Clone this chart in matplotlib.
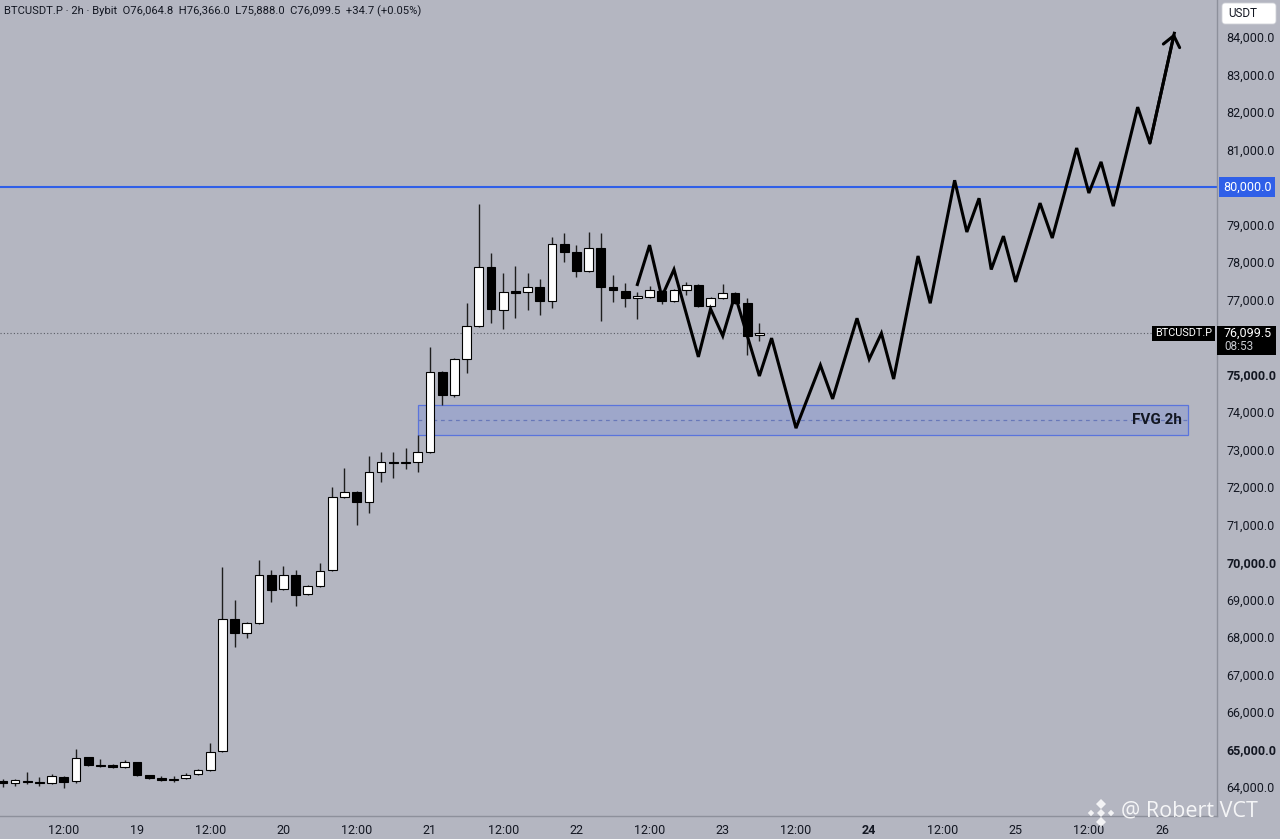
import matplotlib
matplotlib.use('Agg')
import matplotlib.pyplot as plt
import matplotlib.transforms as mtransforms
from matplotlib.patches import Rectangle, RegularPolygon, FancyBboxPatch

# 2h candles, bar index 1..63 (bar 0 = 18th 00:00)
bar_idx = list(range(1, 64))
opens = [64160, 64107, 64170, 64133, 64107, 64267, 64160, 64800, 64587, 64587,
         64533, 64667, 64320, 64240, 64187, 64240, 64347, 64453, 64960, 68480,
         68107, 68373, 69653, 69280, 69653, 69147, 69360, 69787, 71733, 71867,
         71600, 72400, 72667, 72640, 72667, 72933, 75067, 74453, 75413, 76293,
         77867, 76720, 77227, 77200, 77333, 76960, 78480, 78267, 77760, 78373,
         77333, 77227, 77040, 77067, 77227, 76960, 77253, 77387, 76827, 77040,
         77173, 76907, 76064.8]
highs = [64213, 64213, 64400, 64267, 64347, 64293, 65013, 64813, 64747, 64613,
         64720, 64680, 64333, 64293, 64293, 64373, 64480, 65173, 69867, 68987,
         68400, 70053, 69787, 69893, 69800, 69400, 69973, 72000, 72507, 71900,
         72827, 72933, 72933, 73040, 73390, 75733, 75100, 75450, 76907, 79547,
         78240, 77707, 77893, 77707, 77547, 78667, 78773, 78453, 78800, 78773,
         77653, 77440, 77200, 77360, 77253, 77280, 77467, 77413, 77067, 77413,
         77200, 77040, 76366.0]
lows = [64000, 64027, 64080, 64027, 64080, 63973, 64107, 64560, 64533, 64507,
        64507, 64293, 64213, 64160, 64133, 64213, 64320, 64427, 64933, 67733,
        67973, 68347, 68933, 69253, 68827, 69120, 69333, 69760, 71707, 70987,
        71307, 72133, 72240, 72480, 72400, 72900, 74190, 74400, 75040, 76267,
        76373, 76213, 76507, 76720, 76587, 76773, 78000, 77600, 77733, 76427,
        76933, 76800, 76480, 77040, 76880, 76933, 77120, 76800, 76800, 77013,
        76880, 75520, 75888.0]
closes = [64107, 64187, 64140, 64107, 64293, 64133, 64773, 64587, 64560, 64533,
          64667, 64320, 64240, 64187, 64213, 64320, 64453, 64933, 68480, 68107,
          68373, 69653, 69253, 69653, 69120, 69360, 69760, 71733, 71867, 71600,
          72400, 72667, 72640, 72667, 72933, 75067, 74453, 75413, 76293, 77867,
          76747, 77200, 77173, 77333, 76960, 78480, 78267, 77760, 78373, 77333,
          77253, 77040, 77093, 77253, 76960, 77253, 77387, 76827, 77040, 77173,
          76907, 76027, 76099.5]

# projected zigzag path
path_idx = [53, 54, 55, 56, 58, 59, 60, 61, 63, 64, 66, 68, 69, 71, 72, 73, 74,
            76, 77, 79, 80, 81, 82, 83, 84, 86, 87, 89, 90, 91, 92, 94, 95, 97]
path_px = [77400, 78450, 77070, 77800, 75470, 76750, 76030, 77120, 74960, 75970,
           73570, 75250, 74350, 76500, 75410, 76100, 74880, 78160, 76900, 80180,
           78800, 79700, 77800, 78690, 77470, 79570, 78640, 81040, 79840, 80670,
           79490, 82130, 81170, 84100]

fvg_start, fvg_end = 35, 98.1
fvg_low, fvg_high = 73387, 74187
level_80k = 80000
last_price = 76099.5

xtick_idx = list(range(6, 97, 6))
xtick_labels = ['12:00', '19', '12:00', '20', '12:00', '21', '12:00', '22',
                '12:00', '23', '12:00', '24', '12:00', '25', '12:00', '26']
ytick_vals = list(range(64000, 84001, 1000))

header = ('BTCUSDT.P \u00b7 2h \u00b7 Bybit  O76,064.8  H76,366.0  L75,888.0  '
          'C76,099.5  +34.7 (+0.05%)')

BG = '#b4b6c1'
TXT = '#131722'
BLUE = '#2f5fe8'

plt.rcParams['font.family'] = ['Roboto', 'DejaVu Sans']

W, H = 1280, 839
fig = plt.figure(figsize=(12.8, 8.39), dpi=100, facecolor=BG)
ax = fig.add_axes([0, 23 / H, 1217 / W, 816 / H], facecolor=BG)
ax.set_xlim(0.77, 100.5)
ax.set_ylim(63227, 84987)

# FVG zone
ax.add_patch(Rectangle((fvg_start, fvg_low), fvg_end - fvg_start, fvg_high - fvg_low,
                       facecolor='#4a6cf0', alpha=0.2, edgecolor='none', zorder=1))
ax.add_patch(Rectangle((fvg_start, fvg_low), fvg_end - fvg_start, fvg_high - fvg_low,
                       facecolor='none', edgecolor='#5a74dc', lw=0.9, zorder=1.1))
ax.plot([fvg_start, fvg_end], [(fvg_low + fvg_high) / 2] * 2, ls=(0, (3, 3)),
        color='#6878b8', lw=0.9, zorder=1.2)
ax.text(fvg_end - 0.45, (fvg_low + fvg_high) / 2, 'FVG 2h', ha='right', va='center',
        fontsize=11, fontweight='bold', color=TXT, zorder=5)

# levels
ax.axhline(level_80k, color=BLUE, lw=1.5, zorder=2)
ax.axhline(last_price, color='#5a5d66', lw=0.8, ls=(0, (1, 2)), zorder=1.5)

# candles
for i, o, h, l, c in zip(bar_idx, opens, highs, lows, closes):
    ax.vlines(i, l, h, color='#1e1e1e', lw=1.0, zorder=3)
    bottom = min(o, c)
    height = max(abs(c - o), 25)
    face = '#ffffff' if c >= o else '#000000'
    ax.bar(i, height, bottom=bottom, width=0.72, color=face, edgecolor='#000000',
           lw=0.8, zorder=4)

# projection path
ax.plot(path_idx, path_px, color='#000000', lw=2.2, solid_joinstyle='miter', zorder=6)
ax.annotate('', xy=(path_idx[-1], path_px[-1]), xytext=(path_idx[-2], path_px[-2]),
            arrowprops=dict(arrowstyle='->,head_length=0.75,head_width=0.6',
                            color='#000000', lw=2.2, shrinkA=0, shrinkB=0), zorder=6)

# axes styling
for s in ['top', 'left']:
    ax.spines[s].set_visible(False)
for s in ['right', 'bottom']:
    ax.spines[s].set_color('#8d909b')
    ax.spines[s].set_linewidth(1.0)

ax.yaxis.tick_right()
ax.set_yticks(ytick_vals)
ax.set_yticklabels(['' if v in (level_80k, 76000) else f'{v:,.1f}' for v in ytick_vals])
for v, lab in zip(ytick_vals, ax.get_yticklabels()):
    if v % 5000 == 0:
        lab.set_fontweight('bold')
ax.tick_params(axis='y', length=0, pad=7, labelsize=9, labelcolor=TXT)

ax.set_xticks(xtick_idx)
ax.set_xticklabels(xtick_labels)
for lab in ax.get_xticklabels():
    if lab.get_text() == '24':
        lab.set_fontweight('bold')
ax.tick_params(axis='x', length=0, pad=6, labelsize=9, labelcolor=TXT)

# overlay in pixel coordinates for labels and watermark
ov = fig.add_axes([0, 0, 1, 1], facecolor='none')
ov.set_xlim(0, W)
ov.set_ylim(H, 0)
ov.axis('off')
ov.set_zorder(10)
mixed = mtransforms.blended_transform_factory(ov.transData, ax.transData)

ov.text(4, 11, header, fontsize=8.1, color=TXT, va='center', ha='left')

ov.add_patch(FancyBboxPatch((1222, 3), 54, 21, boxstyle='round,pad=0,rounding_size=3',
                            fc='white', ec='#d0d2d8', lw=0.6))
ov.text(1243, 13.5, 'USDT', fontsize=8.4, color=TXT, ha='center', va='center')

ov.text(1247, level_80k, f'{level_80k:,.1f}', transform=mixed, fontsize=9, color='white',
        ha='center', va='center',
        bbox=dict(boxstyle='square,pad=0.3', fc=BLUE, ec='none'))

ov.add_patch(Rectangle((1152, 326), 63, 15, facecolor='black', edgecolor='none'))
ov.text(1183.5, 333.5, 'BTCUSDT.P', fontsize=7.8, color='white', ha='center', va='center')
ov.add_patch(Rectangle((1217, 326), 59, 29, facecolor='black', edgecolor='none'))
ov.text(1224, 333.5, '76,099.5', fontsize=9, color='white', ha='left', va='center')
ov.text(1224, 347, '08:53', fontsize=8.5, color='#c8cad0', ha='left', va='center')

# watermark (binance-like mark + handle)
for dx, dy, r in [(0, 0, 4.0), (-10, 0, 3.2), (10, 0, 3.2), (0, -9, 5.0), (0, 9, 5.0)]:
    ov.add_patch(RegularPolygon((1101 + dx, 813 + dy), 4, radius=r, orientation=0,
                                facecolor='white', alpha=0.85, edgecolor='none'))
ov.text(1121, 811, '@ Robert VCT', fontsize=15.5, color='white', alpha=0.88,
        ha='left', va='center', family=['Open Sans', 'DejaVu Sans'])

fig.savefig('out.png', dpi=100, facecolor=BG)
